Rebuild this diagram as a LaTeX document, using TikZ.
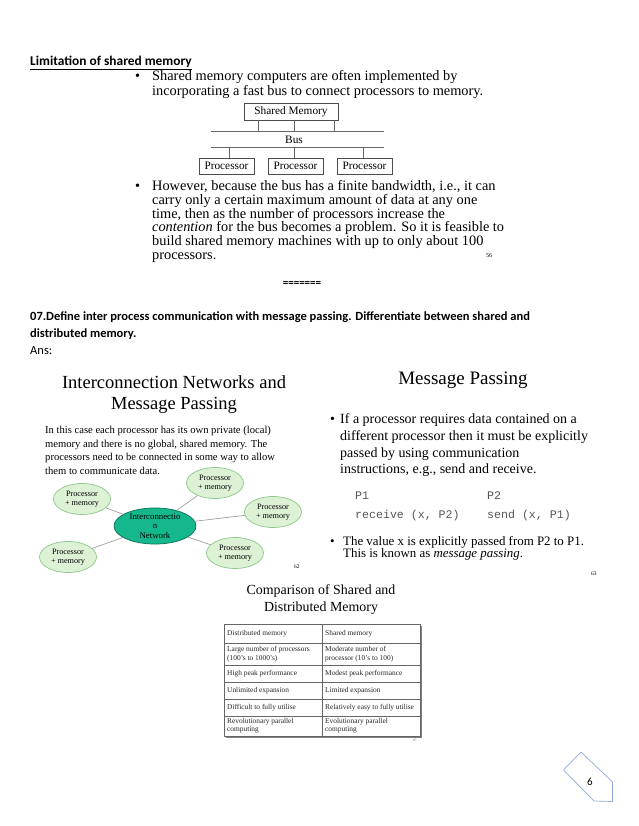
\documentclass[tikz,border=0pt]{standalone}
\usepackage{fontspec}
\setmainfont{Liberation Serif}
\newfontfamily\calfnt{Carlito}
\newfontfamily\courfnt{Liberation Mono}
\usetikzlibrary{shapes.geometric}
\definecolor{elfill}{HTML}{DDF2D5}
\definecolor{eldraw}{HTML}{8CC98A}
\definecolor{cenfill}{HTML}{14B88C}
\definecolor{cendraw}{HTML}{0B7355}
\definecolor{conn}{HTML}{A0A0A0}
\definecolor{pagecol}{HTML}{8FAADC}
\definecolor{codecol}{HTML}{555555}
\tikzset{
  ln/.style={anchor=base west, inner sep=0pt},
  lnc/.style={anchor=base, inner sep=0pt},
  boxn/.style={draw=black!70, line width=0.6pt, inner sep=0pt, font=\fontsize{11.3}{11}\selectfont},
  pm/.style={ellipse, draw=eldraw, fill=elfill, line width=0.7pt, minimum width=57pt, minimum height=31pt, inner sep=0pt, align=center, font=\fontsize{8.2}{9.5}\selectfont},
  cen/.style={ellipse, draw=cendraw, fill=cenfill, line width=0.7pt, minimum width=82pt, minimum height=33pt, inner sep=0pt, align=center, font=\fontsize{8.8}{9.8}\selectfont},
  cline/.style={draw=conn, line width=0.7pt},
  busline/.style={draw=black!60, line width=0.6pt},
  cell/.style={anchor=west, inner sep=0pt, align=left, font=\fontsize{7.4}{8.4}\selectfont, text=black!85}
}
\begin{document}
\begin{tikzpicture}[x=1pt,y=-1pt]
\path[use as bounding box, fill=white] (0,0) rectangle (638,826);

% ---- heading
\node[ln, font=\calfnt\bfseries\fontsize{13.4}{14}\selectfont] (h1) at (30,66) {\underline{Limitation of shared memory}};

% ---- slide 56 text
\begin{scope}[every node/.append style={font=\fontsize{14.35}{15}\selectfont}]
\node[ln] (b1) at (135,80.5) {\textbullet};
\node[ln] (t1a) at (152,80.5) {Shared memory computers are often implemented by};
\node[ln] (t1b) at (152,95.5) {incorporating a fast bus to connect processors to memory.};
\end{scope}

% shared memory diagram
\node[boxn, minimum width=94pt, minimum height=17pt] (sm) at (291,111.5) {Shared Memory};
\coordinate (busL) at (211,131);
\coordinate (busR) at (384,131);
\coordinate (busL2) at (211,147);
\coordinate (busR2) at (384,147);
\draw[busline] (busL) -- (busR);
\draw[busline] (busL2) -- (busR2);
\node[inner sep=0pt, font=\fontsize{11.3}{11}\selectfont] (bus) at (294,139.5) {Bus};
\node[boxn, minimum width=55pt, minimum height=16pt] (p1) at (226.5,166) {Processor};
\node[boxn, minimum width=55pt, minimum height=16pt] (p2) at (295.5,166) {Processor};
\node[boxn, minimum width=55pt, minimum height=16pt] (p3) at (364.5,166) {Processor};
\draw[busline] (sm.south -| 258,0) -- (258,131);
\draw[busline] (sm.south -| 294,0) -- (294,131);
\draw[busline] (sm.south -| 334,0) -- (334,131);
\draw[busline] (229,147) -- (p1.north -| 229,0);
\draw[busline] (294,147) -- (p2.north -| 294,0);
\draw[busline] (363,147) -- (p3.north -| 363,0);

\begin{scope}[every node/.append style={font=\fontsize{14.35}{15}\selectfont}]
\node[ln] (b2) at (135,191) {\textbullet};
\node[ln] (u1) at (152,191) {However, because the bus has a finite bandwidth, i.e., it can};
\node[ln] (u2) at (152,204.6) {carry only a certain maximum amount of data at any one};
\node[ln] (u3) at (152,218.2) {time, then as the number of processors increase the};
\node[ln] (u4) at (152,231.8) {\textit{contention} for the bus becomes a problem. So it is feasible to};
\node[ln] (u5) at (152,245.4) {build shared memory machines with up to only about 100};
\node[ln] (u6) at (152,259) {processors.};
\end{scope}
\node[ln, font=\fontsize{6}{6}\selectfont] (n56) at (486,257) {56};

% ---- separator and question
\node[lnc, font=\calfnt\bfseries\fontsize{11}{12}\selectfont] (sep) at (302,286) {=======};
\node[ln, font=\calfnt\bfseries\fontsize{12.5}{13}\selectfont] (q1) at (30,320) {07.Define inter process communication with message passing. Differentiate between shared and};
\node[ln, font=\calfnt\bfseries\fontsize{12.5}{13}\selectfont] (q2) at (30,337) {distributed memory.};
\node[ln, font=\calfnt\fontsize{12.5}{13}\selectfont] (ans) at (30,354) {Ans:};

% ---- slide 62
\node[lnc, font=\fontsize{18.5}{20}\selectfont] (s1t1) at (174,388) {Interconnection Networks and};
\node[lnc, font=\fontsize{18.5}{20}\selectfont] (s1t2) at (174,409.5) {Message Passing};
\begin{scope}[every node/.append style={font=\fontsize{10.6}{12}\selectfont}]
\node[ln] (pa) at (45,433.5) {In this case each processor has its own private (local)};
\node[ln] (pb) at (45,447) {memory and there is no global, shared memory. The};
\node[ln] (pc) at (45,460.5) {processors need to be connected in some way to allow};
\node[ln] (pd) at (45,474) {them to communicate data.};
\end{scope}

\node[cen] (net) at (155,526) {Interconnectio\\n\\Network};
\node[pm] (e1) at (82,499) {Processor\\+ memory};
\node[pm] (e2) at (215,483) {Processor\\+ memory};
\node[pm] (e3) at (273,512) {Processor\\+ memory};
\node[pm] (e4) at (68,557) {Processor\\+ memory};
\node[pm] (e5) at (235,553) {Processor\\+ memory};
\draw[cline] (e1) -- (net);
\draw[cline] (e2) -- (net);
\draw[cline] (e3) -- (net);
\draw[cline] (e4) -- (net);
\draw[cline] (e5) -- (net);
\node[ln, font=\fontsize{5.5}{6}\selectfont] (n62) at (294,568) {62};

% ---- slide 63
\node[lnc, font=\fontsize{19}{20}\selectfont] (s2t) at (463,384) {Message Passing};
\begin{scope}[every node/.append style={font=\fontsize{14}{15}\selectfont}]
\node[ln] (b3) at (330,423) {\textbullet};
\node[ln] (m1) at (340,423) {If a processor requires data contained on a};
\node[ln] (m2) at (340,440) {different processor then it must be explicitly};
\node[ln] (m3) at (340,457) {passed by using communication};
\node[ln] (m4) at (340,473.5) {instructions, e.g., send and receive.};
\end{scope}
\begin{scope}[every node/.append style={font=\courfnt\fontsize{11.6}{12}\selectfont, text=codecol}]
\node[ln] (cp1) at (355,499) {P1};
\node[ln] (cp2) at (487,499) {P2};
\node[ln] (cr) at (355,518) {receive (x, P2)};
\node[ln] (cs) at (487,518) {send (x, P1)};
\end{scope}
\begin{scope}[every node/.append style={font=\fontsize{12.9}{12}\selectfont}]
\node[ln] (b4) at (330,545) {\textbullet};
\node[ln] (v1) at (343,545) {The value x is explicitly passed from P2 to P1.};
\node[ln] (v2) at (343,557) {This is known as \textit{message passing}.};
\end{scope}
\node[ln, font=\fontsize{5.5}{6}\selectfont] (n63) at (591,575) {63};

% ---- slide 87 comparison
\node[lnc, font=\fontsize{13.9}{16}\selectfont] (ct1) at (321,594.5) {Comparison of Shared and};
\node[lnc, font=\fontsize{13.9}{16}\selectfont] (ct2) at (321,611.5) {Distributed Memory};
\fill[black!50] (225.5,625.5) rectangle (421.5,737.5);
\draw[black!60, fill=white, line width=0.5pt] (224,624) rectangle (420,736);
\foreach \yy in {643,665,682,699,716} \draw[black!60, line width=0.5pt] (224,\yy) -- (420,\yy);
\draw[black!60, line width=0.5pt] (322,624) -- (322,736);
\node[cell] (c11) at (227,633.5) {Distributed memory};
\node[cell] (c12) at (325,633.5) {Shared memory};
\node[cell] (c21) at (227,654) {Large number of processors\\(100's to 1000's)};
\node[cell] (c22) at (325,654) {Moderate number of\\processor (10's to 100)};
\node[cell] (c31) at (227,673.5) {High peak performance};
\node[cell] (c32) at (325,673.5) {Modest peak performance};
\node[cell] (c41) at (227,690.5) {Unlimited expansion};
\node[cell] (c42) at (325,690.5) {Limited expansion};
\node[cell] (c51) at (227,707.5) {Difficult to fully utilise};
\node[cell] (c52) at (325,707.5) {Relatively easy to fully utilise};
\node[cell] (c61) at (227,725.5) {Revolutionary parallel\\computing};
\node[cell] (c62) at (325,725.5) {Evolutionary parallel\\computing};
\node[ln, font=\fontsize{3.5}{4}\selectfont, text=black!60] (n87) at (413,741) {87};

% ---- page number tag
\draw[pagecol, line width=0.7pt] (581,752) -- (563.5,770) -- (594,801) -- (612.5,801.5) -- (612.5,782) -- cycle;
\node[font=\calfnt\fontsize{11}{12}\selectfont] (pg) at (590,782) {6};
\end{tikzpicture}
\end{document}
